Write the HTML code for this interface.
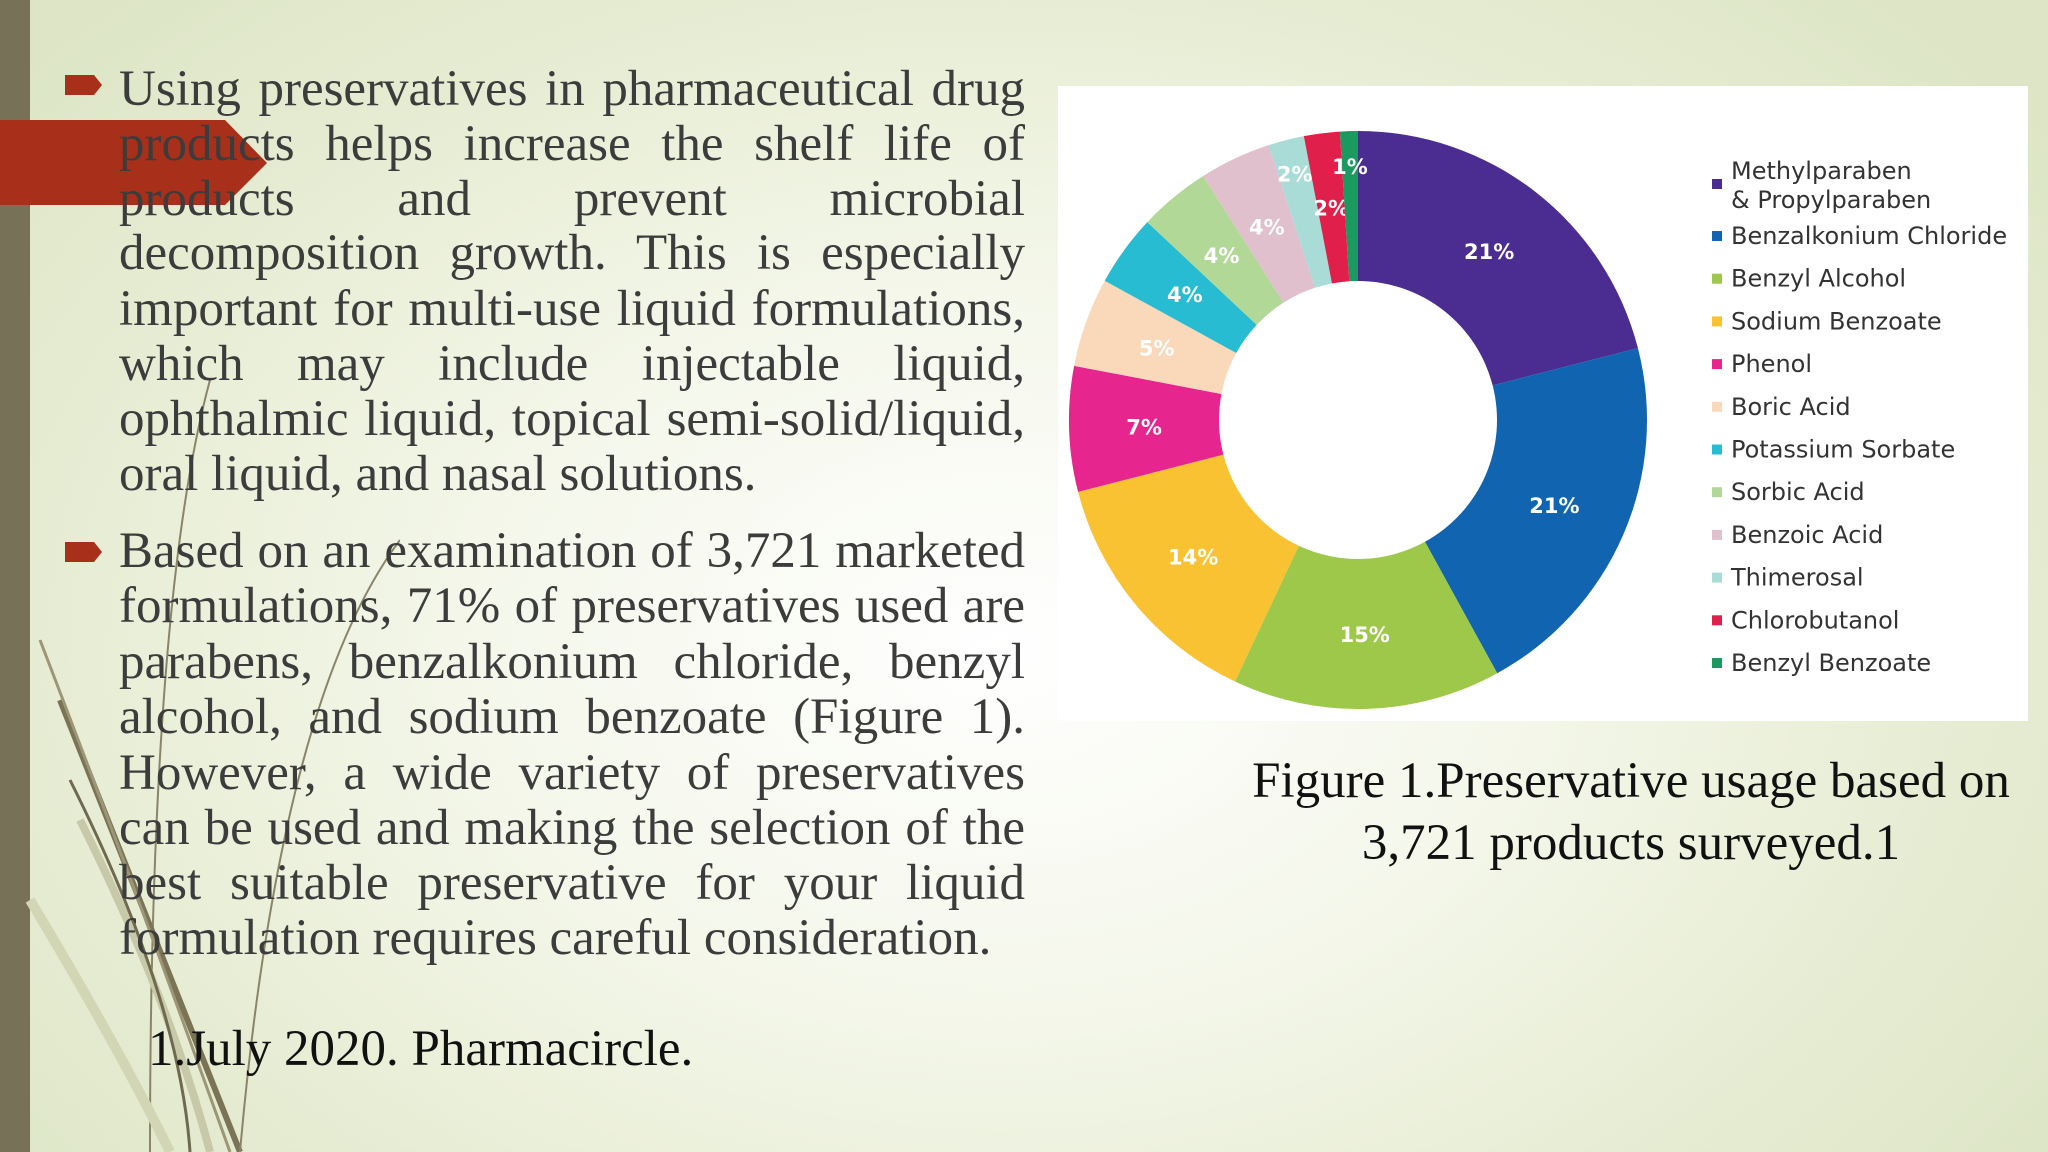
<!DOCTYPE html>
<html><head><meta charset="utf-8"><style>
html,body{margin:0;padding:0}
body{width:2048px;height:1152px;position:relative;overflow:hidden;font-family:"Liberation Serif",serif;
background:radial-gradient(ellipse 1300px 900px at 1000px 650px,#ffffff 0%,#f4f7ea 40%,#e6ecd2 75%,#dde5c6 100%);}
.line{position:absolute;left:119px;width:906px;font-size:51px;line-height:55px;height:55px;color:#3c3c3c;text-align:justify;text-align-last:justify;white-space:nowrap;}
.line.last{text-align-last:left}
</style></head><body>
<div style="position:absolute;left:0;top:0;width:30px;height:1152px;background:#777257"></div>
<svg style="position:absolute;left:0;top:0" width="400" height="1152">
<path d="M210 380 Q150 600 150 1152" stroke="#8a8468" stroke-width="2" fill="none"/>
<path d="M60 700 Q160 950 240 1152" stroke="#7a7356" stroke-width="6" fill="none"/>
<path d="M40 640 Q140 900 230 1152" stroke="#9c9676" stroke-width="3" fill="none"/>
<path d="M80 820 Q170 1000 210 1152" stroke="#c7c9a8" stroke-width="8" fill="none"/>
<path d="M30 900 Q120 1050 170 1152" stroke="#d2d6b4" stroke-width="10" fill="none"/>
<path d="M400 540 Q280 700 240 1152" stroke="#8a8468" stroke-width="2" fill="none"/>
<path d="M70 780 Q180 1000 190 1152" stroke="#6f6a4f" stroke-width="3" fill="none"/>
</svg>
<svg style="position:absolute;left:0;top:0" width="300" height="600">
<polygon points="0,120 225,120 267,163 225,205 0,205" fill="#a8301a"/>
<polygon points="65,75 94,75 102,85 94,95 65,95" fill="#a8301a"/>
<polygon points="65,542 94,542 102,552 94,562 65,562" fill="#a8301a"/>
</svg>
<div>
<div class="line" style="top:62px">Using preservatives in pharmaceutical drug</div>
<div class="line" style="top:117px">products helps increase the shelf life of</div>
<div class="line" style="top:172px">products and prevent microbial</div>
<div class="line" style="top:226px">decomposition growth. This is especially</div>
<div class="line" style="top:282px">important for multi-use liquid formulations,</div>
<div class="line" style="top:337px">which may include injectable liquid,</div>
<div class="line" style="top:392px">ophthalmic liquid, topical semi-solid/liquid,</div>
<div class="line last" style="top:447px">oral liquid, and nasal solutions.</div>
<div class="line" style="top:524px">Based on an examination of 3,721 marketed</div>
<div class="line" style="top:579px">formulations, 71% of preservatives used are</div>
<div class="line" style="top:635px">parabens, benzalkonium chloride, benzyl</div>
<div class="line" style="top:690px">alcohol, and sodium benzoate (Figure 1).</div>
<div class="line" style="top:746px">However, a wide variety of preservatives</div>
<div class="line" style="top:801px">can be used and making the selection of the</div>
<div class="line" style="top:856px">best suitable preservative for your liquid</div>
<div class="line last" style="top:911px">formulation requires careful consideration.</div>
</div>
<div style="position:absolute;left:148px;top:1022px;font-size:51px;line-height:55px;color:#111">1.July 2020. Pharmacircle.</div>
<div style="position:absolute;left:1058px;top:86px;width:970px;height:635px;background:#fff"></div>
<svg id="chart" style="position:absolute;left:0;top:0" width="2048" height="1152"></svg>
<div style="position:absolute;left:1181px;width:900px;top:750px;font-size:51px;line-height:62px;color:#111;text-align:center">Figure 1.Preservative usage based on<br>3,721 products surveyed.1</div>
<script>
const categories=["Methylparaben & Propylparaben","Benzalkonium Chloride","Benzyl Alcohol","Sodium Benzoate","Phenol","Boric Acid","Potassium Sorbate","Sorbic Acid","Benzoic Acid","Thimerosal","Chlorobutanol","Benzyl Benzoate"];
const values=[21,21,15,14,7,5,4,4,4,2,2,1];
const labels=["21%","21%","15%","14%","7%","5%","4%","4%","4%","2%","2%","1%"];
const colors=["#4b2d91","#1064b0","#9dc84a","#f9c232","#e6268e","#f9d9b9","#27bcd1","#b2d897","#e0c0cc","#a9dcd6","#e01f4a","#1a9a5e"];
const NS="http://www.w3.org/2000/svg";
const svg=document.getElementById('chart');
const cx=1358,cy=420,R=289,r=139;
const total=values.reduce((a,b)=>a+b,0);
function ang(v){return v/total*2*Math.PI-Math.PI/2;}
function pt(a,rad){return [cx+rad*Math.cos(a),cy+rad*Math.sin(a)];}
let acc=0;
values.forEach((v,i)=>{
  const a0=ang(acc),a1=ang(acc+v);acc+=v;
  const large=(a1-a0)>Math.PI?1:0;
  const p0=pt(a0,R),p1=pt(a1,R),q1=pt(a1,r),q0=pt(a0,r);
  const p=document.createElementNS(NS,'path');
  p.setAttribute('d',`M${p0[0]},${p0[1]} A${R},${R} 0 ${large} 1 ${p1[0]},${p1[1]} L${q1[0]},${q1[1]} A${r},${r} 0 ${large} 0 ${q0[0]},${q0[1]} Z`);
  p.setAttribute('fill',colors[i]);
  
  
  svg.appendChild(p);
  const am=(a0+a1)/2;
  const lr=(v<3 && i!==10)?R*0.88:(r+R)/2;
  const lp=pt(am,lr);
  const t=document.createElementNS(NS,'text');
  t.setAttribute('x',lp[0]);t.setAttribute('y',lp[1]+8);
  t.setAttribute('text-anchor','middle');
  t.setAttribute('font-family','"DejaVu Sans",sans-serif');
  t.setAttribute('font-weight','bold');t.setAttribute('font-size','21');
  t.setAttribute('fill','#fff');
  
  
  t.textContent=labels[i];
  svg.appendChild(t);
});
const ly0=236,lstep=42.7;
categories.forEach((c,i)=>{
  let ty=i===0?184:ly0+(i-1)*lstep;
  const s=document.createElementNS(NS,'rect');
  s.setAttribute('x',1712);s.setAttribute('y',ty-5);s.setAttribute('width',10);s.setAttribute('height',10);
  s.setAttribute('fill',colors[i]);
  
  
  svg.appendChild(s);
  const t=document.createElementNS(NS,'text');
  t.setAttribute('font-family','"DejaVu Sans",sans-serif');
  t.setAttribute('font-size','24');t.setAttribute('fill','#333');
  
  
  if(i===0){
    const parts=["Methylparaben","& Propylparaben"];
    parts.forEach((pp,k)=>{const ts=document.createElementNS(NS,'tspan');ts.setAttribute('x',1731);ts.setAttribute('y',179+k*29);ts.textContent=pp;t.appendChild(ts);});
  } else {
    t.setAttribute('x',1731);t.setAttribute('y',ty+8);t.textContent=c;
  }
  svg.appendChild(t);
});
</script>
</body></html>
